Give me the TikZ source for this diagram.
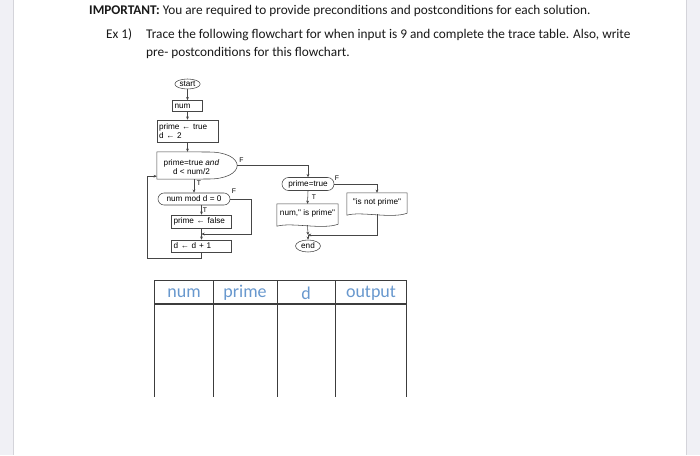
\documentclass[tikz,border=0pt]{standalone}
\usepackage{fontspec}
\setmainfont{Carlito}
\newfontfamily\arialf{Liberation Sans}
\usetikzlibrary{arrows.meta,shapes.geometric,shapes.misc,calc}
\definecolor{pagegrey}{RGB}{240,240,245}
\definecolor{edgegrey}{RGB}{212,212,218}
\definecolor{fcline}{RGB}{70,70,70}
\definecolor{hdrblue}{RGB}{104,152,206}
\definecolor{tabline}{RGB}{60,60,60}
\begin{document}
\begin{tikzpicture}[x=1pt,y=-1pt,
  txt/.style={anchor=base west,inner sep=0pt,font=\fontsize{13.3}{15}\selectfont,text=black!90},
  fc/.style={draw=fcline,line width=0.55pt,font=\arialf\fontsize{8.2}{9}\selectfont,inner sep=1.2pt},
  fctext/.style={font=\arialf\fontsize{8.2}{9}\selectfont,inner sep=0pt},
  procbox/.style={fc,rectangle,align=left},
  termnode/.style={fc,ellipse,inner sep=0pt},
  stadium/.style={fc,rounded rectangle,inner sep=0pt},
  lab/.style={font=\arialf\fontsize{6.8}{7}\selectfont,inner sep=0pt},
  arr/.style={draw=fcline,line width=0.55pt,-{Stealth[length=3.2pt,width=2.8pt]}},
  ln/.style={draw=fcline,line width=0.55pt},
  hdr/.style={font=\fontsize{18}{20}\selectfont,text=hdrblue,inner sep=0pt}
]
\useasboundingbox (0,0) rectangle (700,455);
\fill[pagegrey] (0,0) rectangle (700,455);
\fill[white] (13,0) rectangle (686,455);
\draw[edgegrey,line width=0.6pt] (13,0) -- (13,455) (686,0) -- (686,455);

% header texts
\node[txt] (t1) at (89,14.5) {\textbf{IMPORTANT:} You are required to provide preconditions and postconditions for each solution.};
\node[txt] (ex) at (106,38.5) {Ex 1)};
\node[txt] (t2) at (146,38.5) {Trace the following flowchart for when input is 9 and complete the trace table. Also, write};
\node[txt] (t3) at (146,56.5) {pre- postconditions for this flowchart.};

% flowchart nodes
\node[termnode,minimum width=25pt,minimum height=10pt,inner xsep=1pt] (start) at (187.5,84) {start};
\node[procbox,minimum width=30pt,minimum height=11pt,text width=26pt] (num) at (187.5,106) {num};
\node[procbox,minimum width=61pt,minimum height=22pt,text width=57pt] (init) at (187.5,131) {prime ← true\\d ← 2};
\node[inner sep=0pt,minimum width=80pt,minimum height=27pt] (dec) at (197,165.5) {};
\draw[ln] (dec.north west) -- (209,152) .. controls (226,152) and (237,158) .. (dec.east)
  .. controls (237,173) and (226,179) .. (209,179) -- (dec.south west) -- cycle;
\node[fctext,align=center] (dectxt) at (191.5,167) {prime=true \textit{and}\\d < num/2};
\node[stadium,minimum width=72pt,minimum height=12pt] (nummod) at (194,199) {num mod d = 0};
\node[procbox,minimum width=60pt,minimum height=13pt,text width=56pt] (pfalse) at (201.5,221.5) {prime ← false};
\node[procbox,minimum width=60pt,minimum height=12pt,text width=56pt] (dinc) at (201.5,246) {d ← d + 1};

\node[stadium,minimum width=52pt,minimum height=13pt] (ptrue) at (308,184) {prime=true};
\node[fctext,minimum width=61pt,minimum height=18pt] (isprime) at (307.5,213) {num," is prime"};
\draw[ln] (isprime.south west) -- (isprime.north west) -- (isprime.north east) -- ($(isprime.south east)+(0,2)$)
  .. controls (322,230) and (292,222) .. ($(isprime.south west)+(0,4)$) -- cycle;
\node[fctext,minimum width=60pt,minimum height=18pt] (notprime) at (377,202) {"is not prime"};
\draw[ln] (notprime.south west) -- (notprime.north west) -- (notprime.north east) -- ($(notprime.south east)+(0,2)$)
  .. controls (391,219) and (361,211) .. ($(notprime.south west)+(0,4)$) -- cycle;
\node[termnode,minimum width=25pt,minimum height=12pt,inner xsep=1pt] (end) at (308,246) {end};

\coordinate (j1) at (201.5,234);
\coordinate (j2) at (308,235);

% connectors
\draw[arr] (start) -- (num);
\draw[arr] (num) -- (init);
\draw[arr] (init.south) -- (init.south |- dec.north);
\draw[arr] (nummod.north |- dec.south) -- (nummod.north);
\draw[arr] (pfalse.north |- nummod.south) -- (pfalse.north);
\draw[arr] (nummod.east) -- ++(21,0) |- (j1);
\draw[arr] (pfalse.south) -- (dinc.north);
\draw[arr] (dinc.south) -- ++(0,5.5) -| ($(dec.south west)+(-10,-3)$) -- ($(dec.south west)+(0,-3)$);
\draw[arr] (dec.east) -| (ptrue.north);
\draw[arr] (ptrue.east) -| (notprime.north);
\draw[arr] (ptrue.south) -- (isprime.north);
\draw[arr] ($(isprime.south)+(0,3)$) -- (j2);
\draw[arr] ($(notprime.south)+(0,3)$) |- (j2);
\draw[arr] (j2) -- (end.north);

% labels
\node[lab] (fdec) at (241.5,160) {F};
\node[lab] (tdec) at (199,183.5) {T};
\node[lab] (fmod) at (234,191) {F};
\node[lab] (tmod) at (205,210) {T};
\node[lab] (fpt) at (337,178.5) {F};
\node[lab] (tpt) at (314,197.5) {T};

% trace table
\draw[tabline,line width=0.6pt] (154.5,280) -- (406.5,280);
\draw[tabline,line width=1.3pt] (154.5,304) -- (406.5,304);
\foreach \x in {154.5,213,277,335.5,406.5}
  \draw[tabline,line width=0.6pt] (\x,280) -- (\x,397);
\node[hdr] (hnum) at (184,293) {num};
\node[hdr] (hprime) at (245,293) {prime};
\node[hdr] (hd) at (306,293) {d};
\node[hdr] (hout) at (371,293) {output};
\end{tikzpicture}
\end{document}
